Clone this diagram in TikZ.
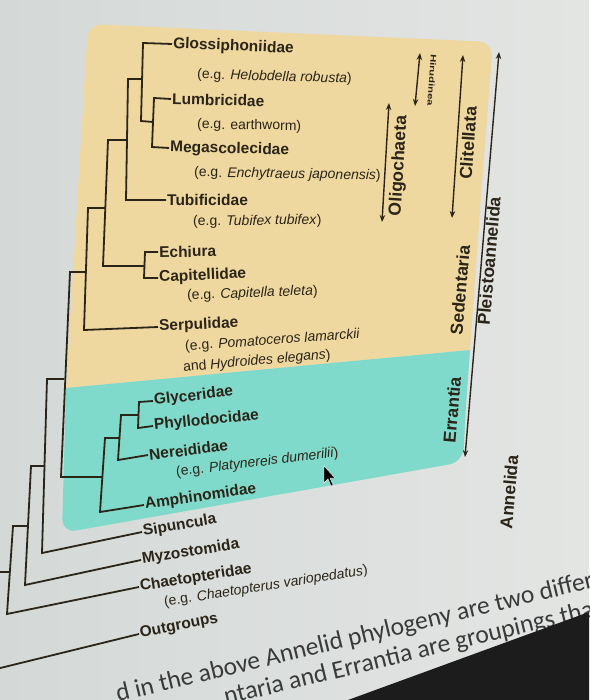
\documentclass[tikz,border=0pt]{standalone}
\usepackage{fontspec}
\setmainfont{Liberation Sans}
\newfontfamily\docfont{Carlito}
\usepackage{graphicx}
\usetikzlibrary{arrows.meta}
\definecolor{paperL}{HTML}{D4D9D7}
\definecolor{paperR}{HTML}{E3E5E3}
\definecolor{sedfill}{HTML}{EFD8A0}
\definecolor{errfill}{HTML}{80DACB}
\definecolor{ink}{HTML}{2B2418}
\definecolor{docink}{HTML}{3A3A3A}
\definecolor{bezel}{HTML}{1C1C1C}

\tikzset{
  leaf/.style={anchor=west, inner sep=1pt, text=ink, font=\fontsize{15.5}{16}\selectfont\bfseries},
  eg/.style={anchor=west, inner sep=1pt, text=ink, font=\fontsize{14}{15}\selectfont},
  clade/.style={inner sep=0pt, text=ink, font=\fontsize{17.5}{18}\selectfont\bfseries},
  branch/.style={draw=ink, line width=1.8pt},
  span/.style={draw=ink, line width=1.4pt, {Stealth[length=7pt,width=5.5pt]}-{Stealth[length=7pt,width=5.5pt]}},
  doc/.style={anchor=base west, inner sep=0pt, text=docink, font=\docfont\fontsize{25.5}{30}\selectfont}
}

\begin{document}
\begin{tikzpicture}[x=1pt, y=-1pt]
    \useasboundingbox (0,0) rectangle (589,700);
    \clip (0,0) rectangle (589,700);

    % Screen background
    \shade[left color=paperL, right color=paperR] (0,0) rectangle (589,700);

    % Sedentaria and Errantia panels
    \fill[sedfill] (66,388) -- (77,206) [rounded corners=14pt] -- (88,24) -- (493,42) -- (481,196) [sharp corners] -- (470,350) -- cycle;
    \fill[errfill] (470,350) -- (466,406) [rounded corners=14pt] -- (463,462) -- (62,533) -- (64,460) [sharp corners] -- (66,388) -- cycle;

    % Internal nodes (top corner, bottom corner, stem)
    \coordinate (LMt) at (154,98);   \coordinate (LMb) at (152,147);  \coordinate (LMm) at (153,122);
    \coordinate (GLMt) at (143,43);  \coordinate (GLMb) at (141,121); \coordinate (GLMm) at (142,79);
    \coordinate (CLTt) at (128,79);  \coordinate (CLTb) at (126,200); \coordinate (CLTm) at (127,140);
    \coordinate (ECt) at (145,252);  \coordinate (ECb) at (144,278);  \coordinate (ECm) at (144,266);
    \coordinate (CECt) at (108,140); \coordinate (CECb) at (103,266); \coordinate (CECm) at (105,208);
    \coordinate (SEDt) at (88,208);  \coordinate (SEDb) at (84,330);  \coordinate (SEDm) at (86,272);
    \coordinate (GPt) at (139,402);  \coordinate (GPb) at (138,428);  \coordinate (GPm) at (138,415);
    \coordinate (GPNt) at (121,415); \coordinate (GPNb) at (118,460); \coordinate (GPNm) at (120,438);
    \coordinate (ERRt) at (105,438); \coordinate (ERRb) at (100,512); \coordinate (ERRm) at (102,477);
    \coordinate (PLEt) at (70,272);  \coordinate (PLEb) at (61,477);  \coordinate (PLEm) at (64,379);
    \coordinate (PSIt) at (47,379);  \coordinate (PSIb) at (42,553);  \coordinate (PSIm) at (45,466);
    \coordinate (PSMt) at (31,466);  \coordinate (PSMb) at (25,585);  \coordinate (PSMm) at (28,526);
    \coordinate (ANNt) at (13,526);  \coordinate (ANNb) at (7,614);   \coordinate (ANNm) at (10,572);
    \coordinate (ROOTt) at (-6,572); \coordinate (ROOTb) at (-12,671);

    % Taxa
    \node[leaf, rotate=-2.5] (glos) at (172,44) {Glossiphoniidae};
    \node[eg, rotate=-1.6] (glosEg) at (196,75) {(e.g. \textit{Helobdella robusta})};
    \node[leaf, rotate=-1.2] (lumb) at (171,99) {Lumbricidae};
    \node[eg, rotate=-1] (lumbEg) at (196,125) {(e.g. earthworm)};
    \node[leaf, rotate=-1.3] (mega) at (169,148) {Megascolecidae};
    \node[eg, rotate=-1] (megaEg) at (193,173) {(e.g. \textit{Enchytraeus japonensis})};
    \node[leaf] (tubi) at (166,200) {Tubificidae};
    \node[eg, rotate=0.5] (tubiEg) at (192,222) {(e.g. \textit{Tubifex tubifex})};
    \node[leaf, rotate=1] (echi) at (158,252) {Echiura};
    \node[leaf, rotate=2.5] (capi) at (158,278) {Capitellidae};
    \node[eg, rotate=2] (capiEg) at (186,296) {(e.g. \textit{Capitella teleta})};
    \node[leaf, rotate=2.5] (serp) at (158,327) {Serpulidae};
    \node[eg, rotate=4] (serpEgA) at (184,347) {(e.g. \textit{Pomatoceros lamarckii}};
    \node[eg, rotate=5] (serpEgB) at (182,368) {and \textit{Hydroides elegans})};
    \node[leaf, rotate=6.5] (glyc) at (153,401) {Glyceridae};
    \node[leaf, rotate=5.5] (phyl) at (153,426) {Phyllodocidae};
    \node[leaf, rotate=7] (nere) at (148,455) {Nereididae};
    \node[eg, rotate=7] (nereEg) at (175,473) {(e.g. \textit{Platynereis dumerilii})};
    \node[leaf, rotate=8] (amph) at (144,505) {Amphinomidae};
    \node[leaf, rotate=9.5] (sipu) at (142,532) {Sipuncula};
    \node[leaf, rotate=9] (myzo) at (141,560) {Myzostomida};
    \node[leaf, rotate=9] (chae) at (139,587) {Chaetopteridae};
    \node[eg, rotate=9] (chaeEg) at (163,603) {(e.g. \textit{Chaetopterus variopedatus})};
    \node[leaf, rotate=11] (outg) at (139,634) {Outgroups};

    % Tree
    \draw[branch] (lumb.west) -- (LMt) -- (LMb) -- (mega.west);
    \draw[branch] (glos.west) -- (GLMt) -- (GLMb) -- (LMm);
    \draw[branch] (GLMm) -- (CLTt) -- (CLTb) -- (tubi.west);
    \draw[branch] (echi.west) -- (ECt) -- (ECb) -- (capi.west);
    \draw[branch] (CLTm) -- (CECt) -- (CECb) -- (ECm);
    \draw[branch] (CECm) -- (SEDt) -- (SEDb) -- (serp.west);
    \draw[branch] (glyc.west) -- (GPt) -- (GPb) -- (phyl.west);
    \draw[branch] (GPm) -- (GPNt) -- (GPNb) -- (nere.west);
    \draw[branch] (GPNm) -- (ERRt) -- (ERRb) -- (amph.west);
    \draw[branch] (SEDm) -- (PLEt) -- (PLEb) -- (ERRm);
    \draw[branch] (PLEm) -- (PSIt) -- (PSIb) -- (sipu.west);
    \draw[branch] (PSIm) -- (PSMt) -- (PSMb) -- (myzo.west);
    \draw[branch] (PSMm) -- (ANNt) -- (ANNb) -- (chae.west);
    \draw[branch] (ANNm) -- (ROOTt) -- (ROOTb) -- (outg.west);

    % Clade spans
    \coordinate (hirTop) at (420,53);  \coordinate (hirBot) at (415,106);
    \coordinate (oliTop) at (389,103); \coordinate (oliBot) at (382,222);
    \coordinate (cliTop) at (463,55);  \coordinate (cliBot) at (452,218);
    \coordinate (pleTop) at (499,52);  \coordinate (pleBot) at (465,457);
    \draw[span] (hirTop) -- (hirBot);
    \draw[span] (oliTop) -- (oliBot);
    \draw[span] (cliTop) -- (cliBot);
    \draw[span] (pleTop) -- (pleBot);

    \node[clade, rotate=-94, font=\fontsize{8}{8}\selectfont\bfseries] (hir) at (432,80) {\scalebox{1.4}[1]{Hirudinea}};
    \node[clade, rotate=86.5] (oli) at (399,166) {Oligochaeta};
    \node[clade, rotate=86] (cli) at (468,143) {Clitellata};
    \node[clade, rotate=85] (ple) at (489,261) {Pleistoannelida};
    \node[clade, rotate=85] (sed) at (460,290) {Sedentaria};
    \node[clade, rotate=85] (err) at (452,410) {Errantia};
    \node[clade, rotate=85] (ann) at (509,492) {Annelida};

    % Mouse pointer
    \fill[black, draw=white, line width=0.4pt] (324,466) -- (324,483) -- (328,479) -- (331,486) -- (333,485) -- (330,478) -- (335,478) -- cycle;

    % Document text below the figure
    \node[doc, rotate=13.5] (docA) at (118,702) {d in the above Annelid phylogeny are two differe};
    \node[doc, rotate=13.5] (docB) at (226,705) {ntaria and Errantia are groupings that};

    % Monitor bezel
    \fill[bezel] (348,700) -- (589,612) -- (589,700) -- cycle;
\end{tikzpicture}
\end{document}
